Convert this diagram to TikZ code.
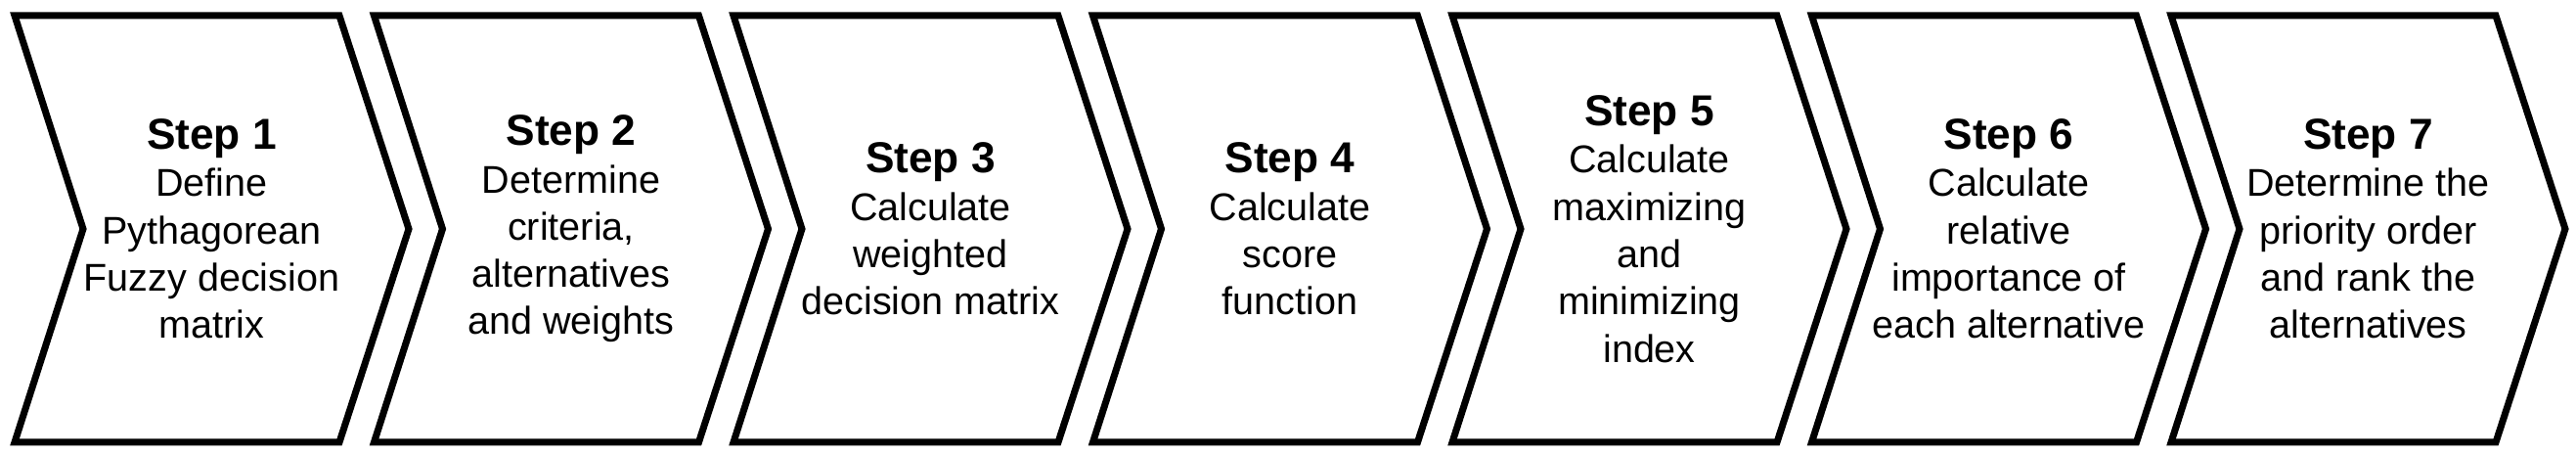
\documentclass[tikz,border=0pt]{standalone}
\usepackage{fontspec}
\setmainfont{Liberation Sans}
\colorlet{ChevronLine}{black}
\colorlet{ChevronFill}{white}
\newcommand{\stephead}[1]{{\fontsize{12.6pt}{14.2pt}\selectfont\bfseries #1}}

\begin{document}
\begin{tikzpicture}[
  chevron/.style={draw=ChevronLine, fill=ChevronFill, line width=2pt, miter limit=20},
  steptext/.style={align=center, font=\fontsize{11.25pt}{13.75pt}\selectfont}
]

\useasboundingbox (0, 0) rectangle (26.34, 4.66);

% Flechas de los pasos
\draw[chevron] (0.15, 4.50) -- (3.47, 4.50) -- (4.18, 2.32) -- (3.47, 0.14) -- (0.15, 0.14) -- (0.85, 2.32) -- cycle;
\draw[chevron] (3.825, 4.50) -- (7.145, 4.50) -- (7.855, 2.32) -- (7.145, 0.14) -- (3.825, 0.14) -- (4.525, 2.32) -- cycle;
\draw[chevron] (7.50, 4.50) -- (10.82, 4.50) -- (11.53, 2.32) -- (10.82, 0.14) -- (7.50, 0.14) -- (8.20, 2.32) -- cycle;
\draw[chevron] (11.175, 4.50) -- (14.495, 4.50) -- (15.205, 2.32) -- (14.495, 0.14) -- (11.175, 0.14) -- (11.875, 2.32) -- cycle;
\draw[chevron] (14.85, 4.50) -- (18.17, 4.50) -- (18.88, 2.32) -- (18.17, 0.14) -- (14.85, 0.14) -- (15.55, 2.32) -- cycle;
\draw[chevron] (18.525, 4.50) -- (21.845, 4.50) -- (22.555, 2.32) -- (21.845, 0.14) -- (18.525, 0.14) -- (19.225, 2.32) -- cycle;
\draw[chevron] (22.20, 4.50) -- (25.52, 4.50) -- (26.23, 2.32) -- (25.52, 0.14) -- (22.20, 0.14) -- (22.90, 2.32) -- cycle;

\node[steptext] (step1) at (2.165, 2.32) {\stephead{Step 1}\\Define\\Pythagorean\\Fuzzy decision\\matrix};
\node[steptext] (step2) at (5.84, 2.32) {\stephead{Step 2}\\Determine\\criteria,\\alternatives\\and weights};
\node[steptext] (step3) at (9.515, 2.32) {\stephead{Step 3}\\Calculate\\weighted\\decision matrix};
\node[steptext] (step4) at (13.19, 2.32) {\stephead{Step 4}\\Calculate\\score\\function};
\node[steptext] (step5) at (16.865, 2.32) {\stephead{Step 5}\\Calculate\\maximizing\\and\\minimizing\\index};
\node[steptext] (step6) at (20.54, 2.32) {\stephead{Step 6}\\Calculate\\relative\\importance of\\each alternative};
\node[steptext] (step7) at (24.215, 2.32) {\stephead{Step 7}\\Determine the\\priority order\\and rank the\\alternatives};

\end{tikzpicture}
\end{document}
